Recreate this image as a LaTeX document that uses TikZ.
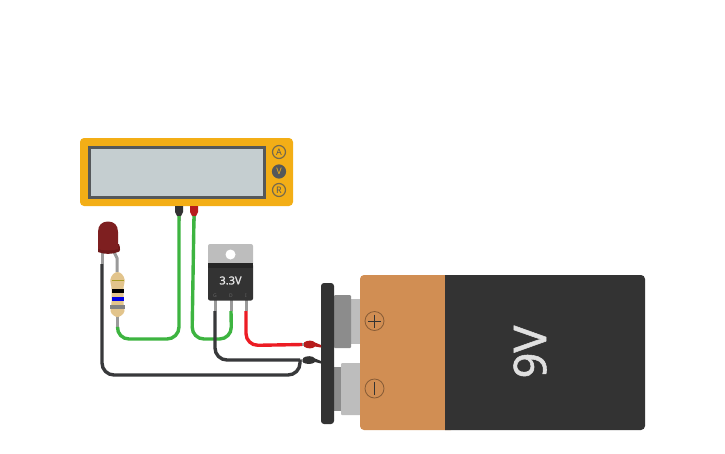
\documentclass[tikz,border=0pt]{standalone}
\usepackage{fontspec}
\setmainfont{Noto Sans}
\newfontfamily\heavyfont[FakeBold=1.2]{Noto Sans}
\definecolor{meterbody}{HTML}{F3AE16}
\definecolor{meterscreen}{HTML}{C5CED0}
\definecolor{meteredge}{HTML}{55585A}
\definecolor{darkpart}{HTML}{333333}
\definecolor{wiregreen}{HTML}{3DB440}
\definecolor{wirered}{HTML}{EC1C24}
\definecolor{wireblack}{HTML}{38393B}
\definecolor{pingray}{HTML}{9A9A9A}
\definecolor{silver}{HTML}{BDBDBD}
\definecolor{midgray}{HTML}{8C8C8C}
\definecolor{ledred}{HTML}{7E1F20}
\definecolor{ledrim}{HTML}{6E1A1B}
\definecolor{resbody}{HTML}{E2C48C}
\definecolor{batorange}{HTML}{D18E53}
\definecolor{clipred}{HTML}{B71C1C}
\tikzset{
  part/.style={inner sep=0pt,outer sep=0pt,minimum width=#1},
  wire/.style={line width=3.4pt,rounded corners=12pt},
  pin/.style={line width=3pt,pingray},
  knob/.style={circle,draw=#1,line width=1.2pt,minimum size=13pt,inner sep=0pt,font=\fontsize{9}{9}\selectfont},
  band/.style={part=15pt,minimum height=4.5pt,fill=#1},
}
\begin{document}
\begin{tikzpicture}[x=1pt,y=-1pt]
\useasboundingbox (0,0) rectangle (725,453);
% meter
\node (meter) [part=213pt,minimum height=68pt,fill=meterbody,rounded corners=4pt] at (186.5,172) {};
\node (screen) [part=175pt,minimum height=50pt,fill=meterscreen,draw=meteredge,line width=3pt] at (176.5,172) {};
\node (knobA) [knob=meteredge!80!meterbody,text=meteredge] at (279,152) {A};
\node (knobV) [knob=meteredge,fill=meteredge,text=meterbody] at (279,171.5) {V};
\node (knobR) [knob=meteredge!80!meterbody,text=meteredge] at (279,190) {R};
\coordinate (probeblack) at (179,216);
\coordinate (probered) at (194,216);
\draw [pin] (probeblack) -- ++(0,5);
\draw [pin] (probered) -- ++(0,5);
\fill [darkpart] (175,206) -- (183,206) -- (183,212) -- (181,216) -- (177,216) -- (175,212) -- cycle;
\fill [clipred] (190,206) -- (198,206) -- (198,212) -- (196,216) -- (192,216) -- (190,212) -- cycle;
% led
\coordinate (ledcathode) at (102,264);
\coordinate (ledanode) at (117,272);
\draw [pin] (102,250) -- (ledcathode);
\draw [pin,line join=round] (113,250) -- (117,258) -- (ledanode);
\fill [ledrim] (98,244) -- (119,244) .. controls (120.5,248) and (120.5,252) .. (118,252) .. controls (112,254.5) and (104,254.5) .. (98,252) -- cycle;
\fill [ledred] (98,249) -- (98,232) .. controls (98,225) and (102,221.5) .. (108,221.5) .. controls (114,221.5) and (118,225) .. (118,232) -- (118,249) .. controls (112,251) and (104,251) .. (98,249) -- cycle;
% resistor
\coordinate (resbottom) at (117.5,327);
\draw [pin] (117.5,314) -- (resbottom);
\fill [resbody] (117.5,272) .. controls (121,272) and (124,276) .. (124.5,279) .. controls (125,283) and (123.5,285) .. (123.5,289) -- (123.5,302) .. controls (123.5,306) and (125,308) .. (124.5,311) .. controls (124,314) and (120,317) .. (117.5,317) .. controls (115,317) and (111,314) .. (110.5,311) .. controls (110,308) and (111.5,306) .. (111.5,302) -- (111.5,289) .. controls (111.5,285) and (110,283) .. (110.5,279) .. controls (111,276) and (114,272) .. (117.5,272) -- cycle;
\node (bandgold) [part=12pt,minimum height=1.5pt,fill=olive!70!resbody] at (117.5,280.5) {};
\node (bandblack) [part=12pt,minimum height=4.5pt,fill=black] at (117.5,291) {};
\node (bandblue) [part=12pt,minimum height=4.5pt,fill=blue!90!black] at (117.5,299) {};
\node (bandgray) [band=pingray!85!black] at (117.5,307) {};
% regulator
\coordinate (pinG) at (215,311);
\coordinate (pinD) at (231,311);
\coordinate (pinI) at (246,311);
\foreach \p in {pinG,pinD,pinI} \draw [pin] (\p) -- ++(0,-12);
\node (regtop) [part=45pt,minimum height=22pt,fill=silver,rounded corners=2pt] at (230.5,255) {};
\fill [white] (230.5,254.5) circle (5);
\node (regbody) [part=45pt,minimum height=37pt,fill=darkpart,rounded corners=2pt] at (230.5,282) {};
\fill [black!85] (208,263) rectangle (253,268);
\node (reglabel) [text=white!90!black,font=\fontsize{11}{11}\heavyfont] at (230.5,280.5) {3.3V};
\node (labelG) [text=black!60,font=\fontsize{5}{5}\selectfont] at (215,295.5) {G};
\node (labelD) [text=black!60,font=\fontsize{5}{5}\selectfont] at (231,295.5) {D};
\node (labelI) [text=black!60,font=\fontsize{5}{5}\selectfont] at (246,295.5) {I};
% battery
\node (topcap) [part=12pt,minimum height=45pt,fill=silver] at (355,321.5) {};
\node (topbase) [part=17pt,minimum height=53pt,fill=midgray,rounded corners=1pt] at (342.5,321.5) {};
\node (botbase) [part=8pt,minimum height=44pt,fill=midgray] at (337.5,389) {};
\node (botcap) [part=21pt,minimum height=52pt,fill=silver,rounded corners=1pt] at (351.5,389) {};
\node (snap) [part=13pt,minimum height=141pt,fill=darkpart,rounded corners=3pt] at (327.5,353.5) {};
\fill [batorange,rounded corners=4pt] (360,275) rectangle (455,430);
\fill [darkpart] (445,275) {[rounded corners=4pt] -- (645,275) -- (645,430)} -- (445,430) -- cycle;
\node (plus) [circle,draw=black!35!batorange,line width=0.8pt,minimum size=19pt,inner sep=0pt] at (374.5,321) {};
\draw [darkpart,line width=1pt] (368,321) -- (381,321) (374.5,314.5) -- (374.5,327.5);
\node (minus) [circle,draw=black!35!batorange,line width=0.8pt,minimum size=19pt,inner sep=0pt] at (374.5,388.5) {};
\draw [darkpart,line width=1pt] (374.5,382) -- (374.5,395);
\node (ninev) [rotate=90,text=white!88!black,font=\fontsize{45}{45}\heavyfont] at (530,352) {9V};
% clips
\coordinate (clipred) at (302,344.5);
\coordinate (clipblack) at (300,360);
\draw [pin] (clipred) -- ++(4,0);
\draw [pin] (clipblack) -- ++(5,0);
\fill [clipred] (304,342.5) .. controls (307,340) and (313,340) .. (315,342.5) -- (321,345) -- (321,347.5) -- (315,346.5) .. controls (313,349) and (307,349) .. (304,346.5) -- cycle;
\fill [darkpart] (303,358) .. controls (306,355.5) and (313,355.5) .. (315,358.5) -- (321,361) -- (321,363.5) -- (315,362) .. controls (313,364.5) and (306,364.5) .. (303,362.5) -- cycle;
% wires
\draw [wire,wiregreen] (resbottom) -- (117,339) -- (179,339) -- (probeblack);
\draw [wire,wiregreen] (probered) -- (192,339) -- (231.5,339) -- (pinD);
\draw [wire,wireblack] (ledcathode) -- (102,375) -- (300,375) -- (clipblack);
\draw [wire,wireblack] (pinG) -- (215,360) -- (clipblack);
\draw [wire,wirered] (pinI) -- (246,345.5) -- (clipred);
\end{tikzpicture}
\end{document}
